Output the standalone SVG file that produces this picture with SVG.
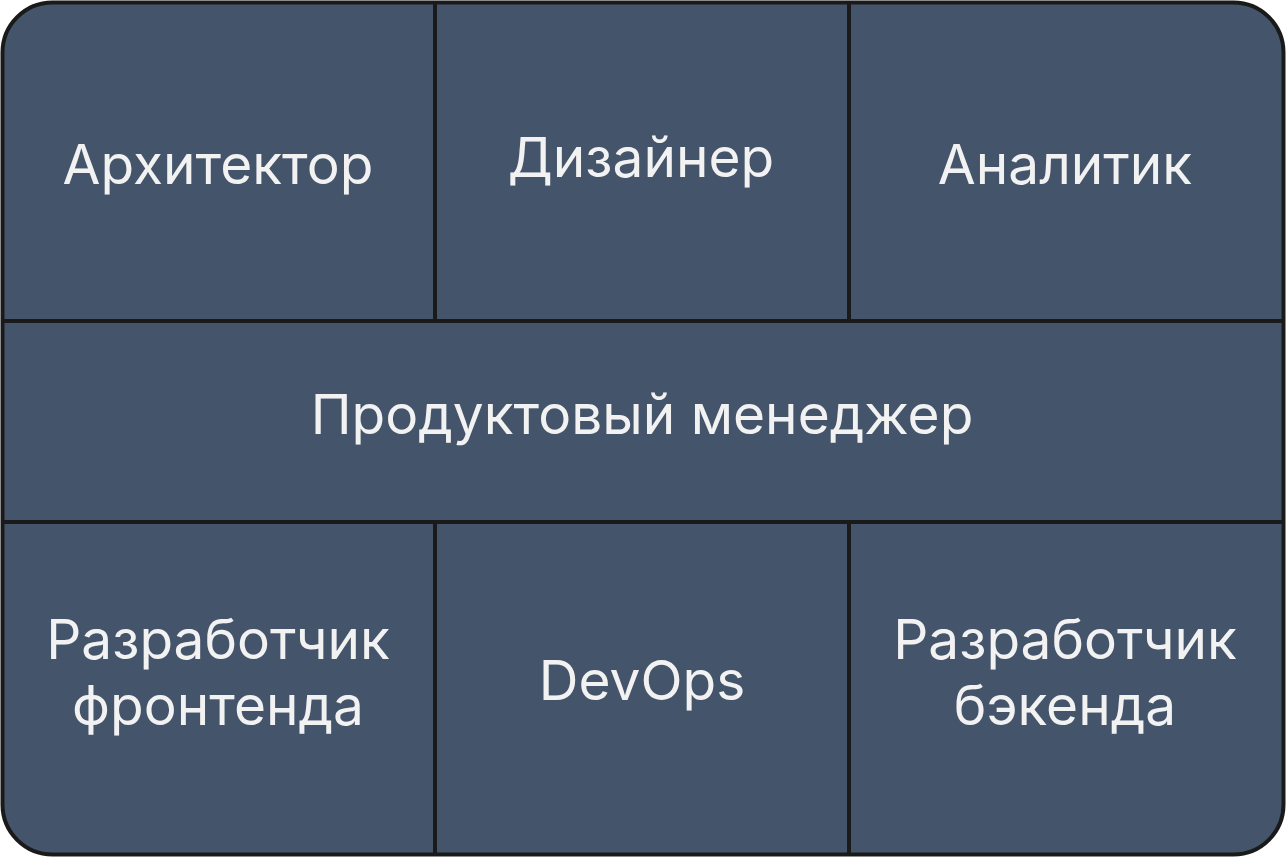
<svg xmlns="http://www.w3.org/2000/svg" width="1288" height="858" viewBox="0 0 1288 858">
<style>
.t{font-family:Inter,"Noto Sans","Liberation Sans",sans-serif;font-size:55px;fill:#f2f2f2;text-anchor:middle}
.ln{stroke:#1a1a1a;stroke-width:4;fill:none}
</style>
<rect x="2.5" y="2.5" width="1281" height="852" rx="50" ry="50" fill="#44546a" stroke="#1a1a1a" stroke-width="4"/>
<g id="connectors">
<line class="ln" x1="2" y1="321" x2="1284" y2="321"/>
<line class="ln" x1="2" y1="522" x2="1284" y2="522"/>
<line class="ln" x1="435" y1="2" x2="435" y2="321"/>
<line class="ln" x1="849" y1="2" x2="849" y2="321"/>
<line class="ln" x1="435" y1="522" x2="435" y2="855"/>
<line class="ln" x1="849" y1="522" x2="849" y2="856"/>
</g>
<g id="architect"><text class="t" x="218" y="184">Архитектор</text></g>
<g id="designer"><text class="t" x="641" y="177">Дизайнер</text></g>
<g id="analyst"><text class="t" x="1065" y="184">Аналитик</text></g>
<g id="pm"><text class="t" x="642" y="434">Продуктовый менеджер</text></g>
<g id="frontend"><text class="t" x="218" y="659">Разработчик</text><text class="t" x="218" y="725">фронтенда</text></g>
<g id="devops"><text class="t" x="642" y="700">DevOps</text></g>
<g id="backend"><text class="t" x="1065" y="659">Разработчик</text><text class="t" x="1065" y="725">бэкенда</text></g>
</svg>
